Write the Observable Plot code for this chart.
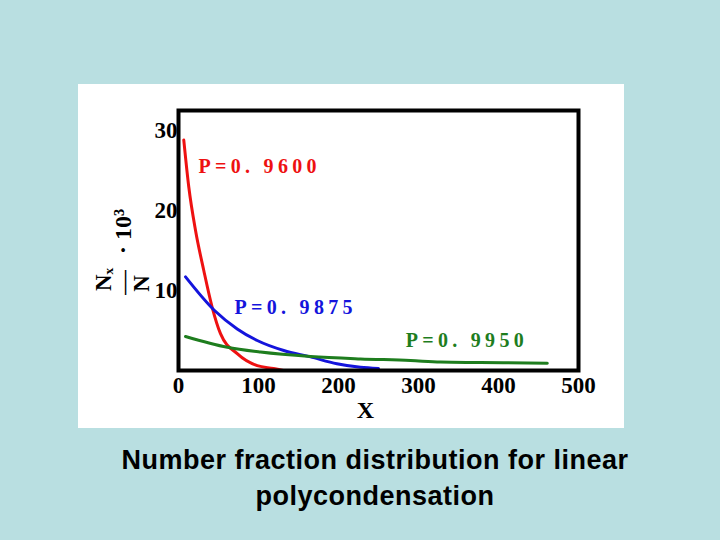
<!DOCTYPE html>
<html>
<head>
<meta charset="utf-8">
<script src="https://cdn.jsdelivr.net/npm/d3@7"></script>
<script src="https://cdn.jsdelivr.net/npm/@observablehq/plot@0.6"></script>
<style>
  html, body { margin: 0; padding: 0; }
  body { width: 720px; height: 540px; background: #b9dfe1; position: relative; overflow: hidden; }
  #chart { position: absolute; left: 78px; top: 84px; width: 546px; height: 344px; background: #fff; }
  #caption { position: absolute; left: 0; top: 442px; width: 750px; text-align: center;
    font-family: "Liberation Sans", Arial, sans-serif; font-weight: bold;
    font-size: 27px; line-height: 36px; letter-spacing: 0.5px; color: #000; }
  .plabel { letter-spacing: 4.3px; }
</style>
</head>
<body>
<div id="chart"></div>
<div id="caption">Number fraction distribution for linear<br>polycondensation</div>
<script>
// Values (x = chain length, y = Nx/N · 10^3)
const redX   = [6.6, 12.9, 21.3, 31.6, 42.1, 52.5, 73.4, 98.4, 118.8, 131];
const redY   = [28.8, 22.9, 17.5, 12.5, 7.9, 4.6, 2.1, 0.6, 0.25, 0];
const blueX  = [8.8, 45, 73.4, 98.4, 131.6, 165, 198, 227.5, 250];
const blueY  = [11.7, 7.5, 5.2, 3.75, 2.5, 1.7, 0.85, 0.4, 0.25];
const greenX = [8.8, 61, 102.5, 165, 227.5, 290, 327.5, 377.5, 461];
const greenY = [4.25, 2.9, 2.3, 1.75, 1.45, 1.25, 1.05, 1.0, 0.9];

const seriesNames  = ["P=0. 9600", "P=0. 9875", "P=0. 9950"];
const seriesColors = ["#ee1111", "#1414dc", "#1e7d1e"];
const labelX = [25, 70, 284];
const labelY = [25.5, 7.9, 3.75];

const xTicks = [0, 100, 200, 300, 400, 500];
const yTicks = [10, 20, 30];

const toRows = (xs, ys, s) => xs.map((x, i) => ({x, y: ys[i], s}));
const rows = [
  ...toRows(redX, redY, seriesNames[0]),
  ...toRows(blueX, blueY, seriesNames[1]),
  ...toRows(greenX, greenY, seriesNames[2])
];
const labels = seriesNames.map((s, i) => ({s, x: labelX[i], y: labelY[i]}));

const serif = "'Liberation Serif', 'DejaVu Serif', serif";
const lbl = (text, dx, dy, extra = {}) => Plot.text([text], {
  frameAnchor: "left", textAnchor: "middle", lineAnchor: "middle", dx, dy,
  fontSize: 23, fontWeight: "bold", fontFamily: serif, ...extra
});

const chart = Plot.plot({
  width: 546,
  height: 344,
  marginLeft: 100,
  marginRight: 46,
  marginTop: 26,
  marginBottom: 58,
  style: {background: "#fff", fontFamily: serif, fontSize: "23px", fontWeight: "bold", color: "#000", overflow: "visible"},
  x: {domain: [0, 500], ticks: xTicks, tickSize: 0, tickPadding: 6, label: null},
  y: {domain: [0, 32.5], ticks: yTicks, tickSize: 0, tickPadding: 1, label: null},
  color: {domain: seriesNames, range: seriesColors},
  marks: [
    Plot.line(rows, {x: "x", y: "y", z: "s", stroke: "s", strokeWidth: 3, curve: "monotone-x"}),
    Plot.text(labels, {x: "x", y: "y", text: "s", fill: "s", textAnchor: "start",
      fontFamily: serif, fontSize: 20, fontWeight: "bold", className: "plabel"}),
    Plot.frame({stroke: "#000", strokeWidth: 4}),
    Plot.text(["X"], {frameAnchor: "bottom", textAnchor: "middle", lineAnchor: "middle", dx: -13, dy: 40,
      fontSize: 24, fontWeight: "bold", fontFamily: serif}),
    lbl("· 10³", -55, -9, {rotate: -90, fontSize: 24}),
    lbl("Nₓ", -75, 39, {rotate: -90}),
    lbl("|", -53, 40, {fontSize: 28, fontWeight: "normal"}),
    lbl("N", -37, 43, {rotate: -90})
  ]
});
document.getElementById("chart").appendChild(chart);
</script>
</body>
</html>
